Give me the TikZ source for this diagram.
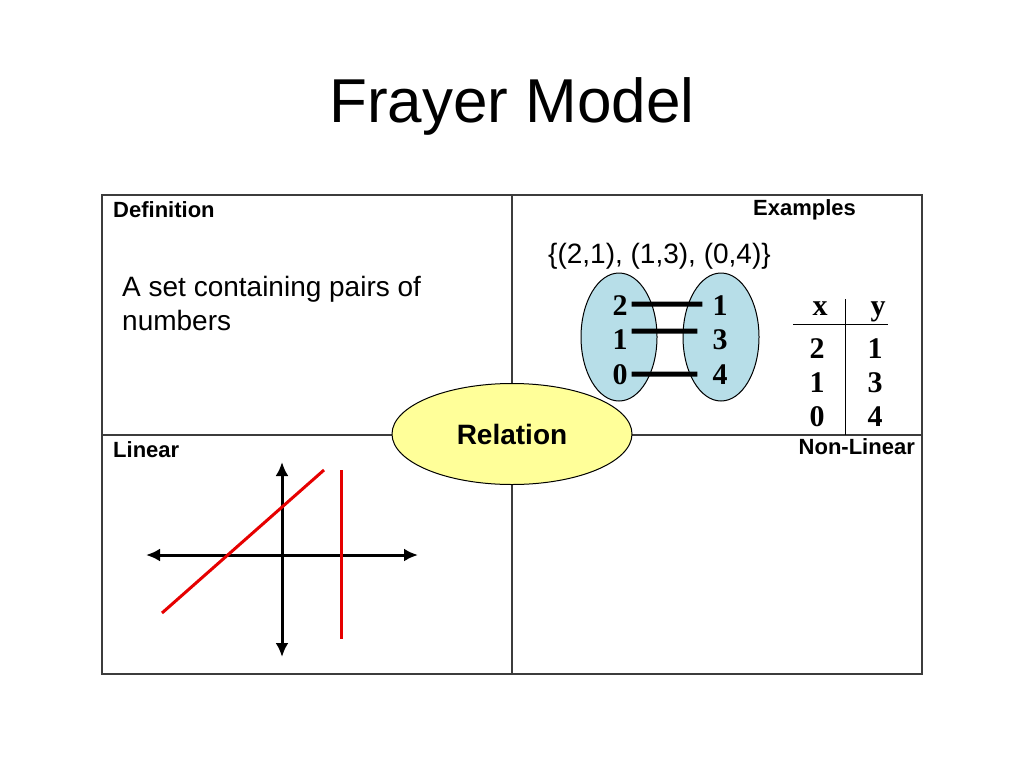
\documentclass[tikz,border=0pt]{standalone}
\usepackage{fontspec}
\setmainfont{Liberation Sans}
\newfontfamily\tnr{Liberation Serif}
\usetikzlibrary{shapes.geometric,arrows.meta}
\definecolor{boxgray}{RGB}{60,60,60}
\definecolor{mapblue}{RGB}{183,222,232}
\definecolor{relyellow}{RGB}{255,255,153}
\definecolor{gred}{RGB}{230,0,0}
\begin{document}
\begin{tikzpicture}[x=1pt,y=-1pt,
  lbl/.style={font=\fontsize{22}{26}\selectfont\bfseries, inner sep=0pt},
  txt/.style={font=\fontsize{28}{34}\selectfont, inner sep=0pt},
  num/.style={font=\tnr\fontsize{30}{34}\selectfont\bfseries, inner sep=0pt, anchor=base},
  frame/.style={draw=boxgray, line width=1.5pt},
  bar/.style={line width=5pt},
  tline/.style={line width=1pt},
  axis/.style={line width=3pt, {Latex[length=14pt,width=13pt]}-{Latex[length=14pt,width=13pt]}},
  redline/.style={draw=gred, line width=3pt},
  setell/.style={ellipse, draw=black, fill=mapblue, line width=1pt, minimum width=76pt, minimum height=128pt, inner sep=0pt}]
\useasboundingbox (0,0) rectangle (1024,768);
\fill[white] (0,0) rectangle (1024,768);
% title
\node[font=\fontsize{62}{74}\selectfont, anchor=base, inner sep=0pt] (title) at (512,122) {Frayer Model};
% frame
\draw[frame] (102,195) rectangle (922,674);
\draw[frame] (512,195) -- (512,674);
\draw[frame] (102,435) -- (922,435);
% labels
\node[lbl, anchor=base west] (deflbl) at (113,217) {Definition};
\node[lbl, anchor=base west] (exlbl) at (753,215) {Examples};
\node[lbl, anchor=base west] (linlbl) at (113,457) {Linear};
\node[lbl, anchor=base east] (nllbl) at (915,454) {Non-Linear};
% definition
\node[txt, anchor=base west, align=left] (deftxt) at (122,330) {A set containing pairs of\\numbers};
% set
\node[txt, anchor=base west] (settxt) at (548,263) {\{(2,1), (1,3), (0,4)\}};
% mapping
\node[setell] (dom) at (619,337) {};
\node[setell] (rng) at (721,337) {};
\node[num] (d2) at (620,315) {2};
\node[num] (d1) at (620,349) {1};
\node[num] (d0) at (620,384) {0};
\node[num] (r1) at (720,315) {1};
\node[num] (r3) at (720,349) {3};
\node[num] (r4) at (720,384) {4};
\draw[bar] ([xshift=4pt,yshift=1pt]d2.east) -- ([xshift=-10pt,yshift=1pt]r1.west);
\draw[bar] ([xshift=4pt,yshift=8pt]d1.east) -- ([xshift=-15pt,yshift=8pt]r3.west);
\draw[bar] ([xshift=4pt,yshift=0pt]d0.east) -- ([xshift=-15pt,yshift=0pt]r4.west);
% table
\node[num] (tx) at (820,315) {x};
\node[num] (ty) at (878,315) {y};
\node[num] (a2) at (817,358) {2};
\node[num] (a1) at (817,392) {1};
\node[num] (a0) at (817,426) {0};
\node[num] (b1) at (875,358) {1};
\node[num] (b3) at (875,392) {3};
\node[num] (b4) at (875,426) {4};
\coordinate (hl) at (793,324);
\coordinate (hr) at (888,324);
\coordinate (vt) at (845,299);
\coordinate (vb) at (845,435);
\draw[tline] (hl) -- (hr);
\draw[tline] (vt) -- (vb);
% relation
\node[ellipse, draw=black, fill=relyellow, line width=1pt, minimum width=240pt, minimum height=101pt, inner sep=0pt, font=\fontsize{28}{34}\selectfont\bfseries] (rel) at (512,434) {Relation};
% graph
\coordinate (xl) at (146,555);
\coordinate (xr) at (418,555);
\coordinate (yt) at (282,462);
\coordinate (yb) at (282,657);
\draw[axis] (xl) -- (xr);
\draw[axis] (yt) -- (yb);
\coordinate (da) at (162,613);
\coordinate (db) at (324,470);
\coordinate (va) at (341,470);
\coordinate (vbb) at (341,639);
\draw[redline] (da) -- (db);
\draw[redline] (va) -- (vbb);
\end{tikzpicture}
\end{document}
